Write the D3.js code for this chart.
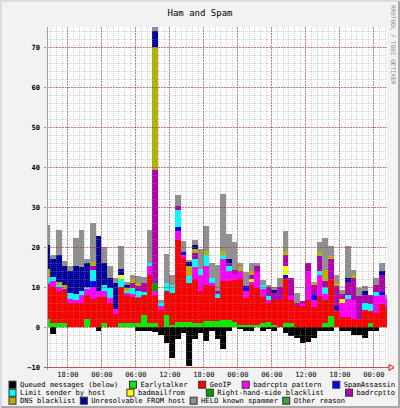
<!DOCTYPE html>
<html>
<head>
<meta charset="utf-8">
<script src="https://cdn.jsdelivr.net/npm/d3@7/dist/d3.min.js"></script>
<style>
  body { margin: 0; background: #f2f2f2; }
  svg { display: block; }
  text { font-family: "DejaVu Sans Mono", monospace; }
</style>
</head>
<body>
<svg width="400" height="408"></svg>
<script>
// hourly bars, first one starts 14:00 on day one
const firstHour = new Date(2008, 2, 14, 14, 0);
const barCount = 61;

// messages per hour
const queued    = [0,1.7,0,0,0,0,0,0,0,0.9,0,0,0,0,0,0,1,1,1,1.2,2,4,7.8,3,1.5,9.8,3,1.5,3.6,1,3,5.6,1,0,0.5,1,1,0,1,0.5,1,0,1.5,2.3,2.8,4,3.8,2.8,1,1,1,0,1,1,2,2,2.8,1,1,0,0];
const early     = [2,1,1,1,0,0,0,2,0,0,1,0,0,1,1,1,1,3,1,1,0,3,0.5,1.2,1.2,1.2,1,1,1.4,1.4,1.4,1.8,1.8,1.2,0.5,0.5,0.5,0.5,1,1.2,0.5,0,1,1,0,0,0,0,0,1,2.8,0,0,0,0,0,0,1,0,0,0];
const geo       = [8.5,9,8,8,6,6,6,6,7,7.5,6.5,6,3.2,9,7,6.5,6.2,5,12,7,4.2,5.9,8,20.6,16,9.8,11,8,9.2,8.8,5.9,9.6,9.6,10.5,11.5,6.75,10.1,9.2,6.5,4.8,6.3,6.8,11.25,5.8,5.2,5.2,6.8,5,7.7,5.8,9.25,4.3,2.5,2.5,2,2.1,4.2,2.9,3.5,5.8,5];
const pattern   = [0.5,1.5,1,0,1,0.8,2,1.5,3,1.5,1.5,1.3,1.3,0,0.5,0.8,0.4,0,2.2,1,1,0,0,2.2,0.8,0,3,4,4.6,0.8,0,5.6,2.6,1.5,2,1.85,0.7,4,2,0.8,0,0,0,0.9,0,0.5,7.1,1.8,5.4,1.5,0,0,3.6,4.5,4.8,0,0,0,4.2,2.1,2];
const spamassassin = [0,0,0,0,0,0,0,0,1.5,0,0,0,0,0,0,0,0,0,0,0,0,0,0,1,0.8,0,0,0,0,0,0,0,0,0,0,1.1,0,0,0,0,0,0,0.75,0,0,0,0,1.1,0,0,0,0.9,0,0,0,0,0,0,0,0.8,0];
const limitHost = [1.2,1,0.5,0,1.5,1.5,1,0.5,2.8,0,1.5,2.5,0,2,0.5,1.5,1.3,0.8,0.8,0,0.8,2.1,2,4.3,0,1.7,2,1.5,2.8,1.2,1,1,1.2,0,0,0,0,0,1,0.9,0,0,0,0,0,0,0,0,0.8,1.7,0,0,0,1.1,0,0,1.7,1.9,1,0,0];
const badmail   = [0,0,0,0,0,0,0,0,0,0,0,0,0,1.1,0,0,0,0,0,0,0,0,0,0,0,0,0,0,0,0,0,0,0,0,0,0,0.8,0,0,0,0,0,2.2,0,0,0,0,0,0,0,0,0,0.8,0,0,0,0,0,0,0,0];
const rhsBlack  = [0,0,0,0,0,0,0,0,0,0,0,0,0,0,0,0,0,0,0,2,0,0,0,0,0,0,0,0,0,0,0,0,0,0,0,0,0,0,0,0,0,0,0,0,0,0,0,0,0,0,0,0,0,0,0,0,0,0,0,0,0];
const badrcptto = [0,0,0,0.6,0,0,0,0,1,0,0,0,0,0,0,1.2,1.3,2.1,0,28.3,0,0,0,0.9,0,0,1.5,0,0,0,0.6,0,0.8,1,0,0,1,1.5,0,2.3,1.6,3.2,2.8,4.5,0.8,0.8,2.1,2.5,3.8,1.4,5,5,1.3,3.1,5.4,5.6,2.1,2.1,1.7,4.2,0];
const dnsBlack  = [2.2,0,0.7,1,0,0,0,0,1,0,0,0,0,0,0.8,1,0.8,0,0,30.7,0,0,0,0,0,2.5,1,0,0.9,0,0,1,0,0,1,0,1,0,0,0,0,0,0.9,0,0,0,0,0.8,1,2.9,0.75,0.8,0,0,0.8,0,0,0,0,0,0];
const unresolv  = [6,4.5,6.8,4.6,5.5,7,6,6,0,13.8,5.5,2.5,6.5,1.5,0.7,0,0,0,0,4,0,0,0,0,0,1,1,0,0,0,0,0,1,0,0,0,0,0,0,0,0.8,0,0,0,0,0,0,0,0,0,0,0,0,1.1,0,0,1.1,0,0,1.1,0];
const heloSpam  = [5,1,6.2,1.2,1.3,7,9.2,1,9.7,0,4,2.9,1.3,5.6,0.7,1,1.7,1.5,8.2,1,0.8,7.3,2.5,2.8,2.6,0.5,1.3,5,6.3,3.8,6.7,14.3,6.2,7,1,3.55,1.9,0.8,1.3,0.5,0.8,2.2,5,0,2.5,0,0,0,2.5,7.95,2.4,2,1,7.9,1.2,2,1.1,0.1,1.8,2,1];
const otherReason = new Array(barCount).fill(0);

const series = [
  { key: "queued",    name: "Queued messages (below)",   color: "#000000", values: queued },
  { key: "early",     name: "Earlytalker",               color: "#00ee00", values: early },
  { key: "geo",       name: "GeoIP",                     color: "#ff0000", values: geo },
  { key: "pattern",   name: "badrcpto pattern",          color: "#ff00ff", values: pattern },
  { key: "sa",        name: "SpamAssassin",              color: "#0000ff", values: spamassassin },
  { key: "limit",     name: "Limit sender by host",      color: "#00ffff", values: limitHost },
  { key: "badmail",   name: "badmailfrom",               color: "#ffff00", values: badmail },
  { key: "rhs",       name: "Right-hand-side blacklist", color: "#00a000", values: rhsBlack },
  { key: "badrcptto", name: "badrcptto",                 color: "#b000b0", values: badrcptto },
  { key: "dns",       name: "DNS blacklist",             color: "#b4b400", values: dnsBlack },
  { key: "unres",     name: "Unresolvable FROM host",    color: "#0000a0", values: unresolv },
  { key: "helo",      name: "HELO known spammer",        color: "#909090", values: heloSpam },
  { key: "other",     name: "Other reason",              color: "#40a040", values: otherReason }
];

const legendRows = [
  { keys: ["queued", "early", "geo", "pattern", "sa"], justify: true },
  { keys: ["limit", "badmail", "rhs", "badrcptto"], justify: true },
  { keys: ["dns", "unres", "helo", "other"], justify: false }
];

const svg = d3.select("svg");
const W = 400, H = 408;
const plot = { left: 47, right: 387, top: 27, bottom: 367 };

const rows = d3.range(barCount).map(i => {
  const row = { t: d3.timeHour.offset(firstHour, i) };
  series.forEach(s => { row[s.key] = s.values[i]; });
  return row;
});

const x = d3.scaleTime()
  .domain([new Date(2008, 2, 14, 14, 25), new Date(2008, 2, 17, 2, 25)])
  .range([plot.left, plot.right]);
const y = d3.scaleLinear().domain([-10, 75]).range([plot.bottom, plot.top]);

// frame
svg.append("rect").attr("width", W).attr("height", H).attr("fill", "#f2f2f2");
svg.append("path").attr("d", `M1,${H - 1}V1H${W - 1}`).attr("stroke", "#dcdcdc").attr("stroke-width", 2).attr("fill", "none");
svg.append("path").attr("d", `M1,${H - 1}H${W - 1}V1`).attr("stroke", "#a8a8a8").attr("stroke-width", 2).attr("fill", "none");

svg.append("rect")
  .attr("x", plot.left).attr("y", plot.top)
  .attr("width", plot.right - plot.left).attr("height", plot.bottom - plot.top)
  .attr("fill", "#ffffff");

svg.append("clipPath").attr("id", "clip")
  .append("rect")
  .attr("x", plot.left).attr("y", plot.top)
  .attr("width", plot.right - plot.left).attr("height", plot.bottom - plot.top);

const bars = svg.append("g").attr("clip-path", "url(#clip)");
const barX = d => x(d.data.t);
const barW = d => x(d3.timeHour.offset(d.data.t, 1)) - x(d.data.t);

// positive stack in legend order
const posKeys = series.filter(s => s.key !== "queued").map(s => s.key);
const stacked = d3.stack().keys(posKeys)(rows);
const colorOf = Object.fromEntries(series.map(s => [s.key, s.color]));

stacked.forEach(layer => {
  bars.append("g").attr("fill", colorOf[layer.key])
    .selectAll("rect").data(layer.filter(d => d[1] > d[0])).join("rect")
    .attr("x", barX).attr("width", barW)
    .attr("y", d => y(d[1])).attr("height", d => y(d[0]) - y(d[1]))
    .attr("shape-rendering", "crispEdges");
});

// queued messages drawn below zero
bars.append("g").attr("fill", colorOf.queued)
  .selectAll("rect").data(rows.filter(r => r.queued > 0)).join("rect")
  .attr("x", d => x(d.t)).attr("width", d => x(d3.timeHour.offset(d.t, 1)) - x(d.t))
  .attr("y", y(0)).attr("height", d => y(-d.queued) - y(0))
  .attr("shape-rendering", "crispEdges");

// grid on top of the bars
const grid = svg.append("g").attr("shape-rendering", "crispEdges");
const minorV = x.ticks(d3.timeHour.every(1));
const majorV = x.ticks(d3.timeHour.every(6));
const minorH = d3.range(-10, 76, 2);
const majorH = d3.range(-10, 76, 10);

grid.selectAll(".mv").data(minorV).join("line")
  .attr("x1", d => Math.round(x(d)) + 0.5).attr("x2", d => Math.round(x(d)) + 0.5)
  .attr("y1", plot.top).attr("y2", plot.bottom + 2)
  .attr("stroke", "#909090").attr("stroke-opacity", 0.42).attr("stroke-dasharray", "1,1");
grid.selectAll(".mh").data(minorH).join("line")
  .attr("y1", d => Math.round(y(d)) + 0.5).attr("y2", d => Math.round(y(d)) + 0.5)
  .attr("x1", plot.left - 2).attr("x2", plot.right)
  .attr("stroke", "#909090").attr("stroke-opacity", 0.42).attr("stroke-dasharray", "1,1");
grid.selectAll(".Mv").data(majorV).join("line")
  .attr("x1", d => Math.round(x(d)) + 0.5).attr("x2", d => Math.round(x(d)) + 0.5)
  .attr("y1", plot.top).attr("y2", plot.bottom + 3)
  .attr("stroke", "#a82020").attr("stroke-opacity", 0.5).attr("stroke-dasharray", "2,1");
grid.selectAll(".Mh").data(majorH).join("line")
  .attr("y1", d => Math.round(y(d)) + 0.5).attr("y2", d => Math.round(y(d)) + 0.5)
  .attr("x1", plot.left - 3).attr("x2", plot.right)
  .attr("stroke", "#a82020").attr("stroke-opacity", 0.5).attr("stroke-dasharray", "2,1");

// axes
svg.append("line")
  .attr("x1", plot.left + 0.5).attr("x2", plot.left + 0.5)
  .attr("y1", plot.top).attr("y2", plot.bottom + 3)
  .attr("stroke", "#a0a0a0");
svg.append("line")
  .attr("x1", plot.left - 3).attr("x2", plot.right + 2)
  .attr("y1", Math.round(y(-10)) + 0.5).attr("y2", Math.round(y(-10)) + 0.5)
  .attr("stroke", "#c04040").attr("stroke-opacity", 0.8);
const ay = Math.round(y(-10)) + 0.5;
svg.append("path")
  .attr("d", `M${plot.right + 2},${ay - 3}L${plot.right + 7},${ay}L${plot.right + 2},${ay + 3}Z`)
  .attr("fill", "none").attr("stroke", "#ff0000");

// y labels
svg.append("g").selectAll("text").data(majorH).join("text")
  .attr("x", 40).attr("y", d => y(d) + 2.5)
  .attr("text-anchor", "end").attr("font-size", 7.1).attr("font-weight", "bold")
  .text(d => d3.format("d")(d).replace("-", "\u2212"));

// x labels
const fmt = d3.timeFormat("%H:%M");
svg.append("g").selectAll("text").data(majorV).join("text")
  .attr("x", d => x(d) + 0.5).attr("y", 377)
  .attr("text-anchor", "middle").attr("font-size", 7.1)
  .text(fmt);

// title and watermark
svg.append("text").attr("x", 200).attr("y", 16)
  .attr("text-anchor", "middle").attr("font-size", 9)
  .text("Ham and Spam");
svg.append("text")
  .attr("transform", "translate(391,5) rotate(90)")
  .attr("font-size", 6).attr("fill", "#8a8a8a")
  .text("RRDTOOL / TOBI OETIKER");

// legend, rrdtool style justified rows
const legend = svg.append("g");
const byKey = Object.fromEntries(series.map(s => [s.key, s]));
const legLeft = 8.5, legRight = 395, swatch = 7, textOff = 11.5, looseGap = 4.3;
legendRows.forEach((row, r) => {
  const base = 386.7 + r * 8;
  const items = row.keys.map(k => {
    const g = legend.append("g");
    g.append("rect").attr("x", 0.5).attr("y", base - 6 + 0.5)
      .attr("width", swatch).attr("height", swatch)
      .attr("fill", byKey[k].color).attr("stroke", "#333").attr("stroke-width", 1);
    const t = g.append("text").attr("x", textOff).attr("y", base)
      .attr("font-size", 7.1).text(byKey[k].name);
    return { g, w: textOff + t.node().getComputedTextLength() };
  });
  const total = d3.sum(items, d => d.w);
  const gap = row.justify ? (legRight - legLeft - total) / (items.length - 1) : looseGap;
  let cx = legLeft;
  items.forEach(it => {
    it.g.attr("transform", `translate(${cx},0)`);
    cx += it.w + gap;
  });
});
</script>
</body>
</html>
